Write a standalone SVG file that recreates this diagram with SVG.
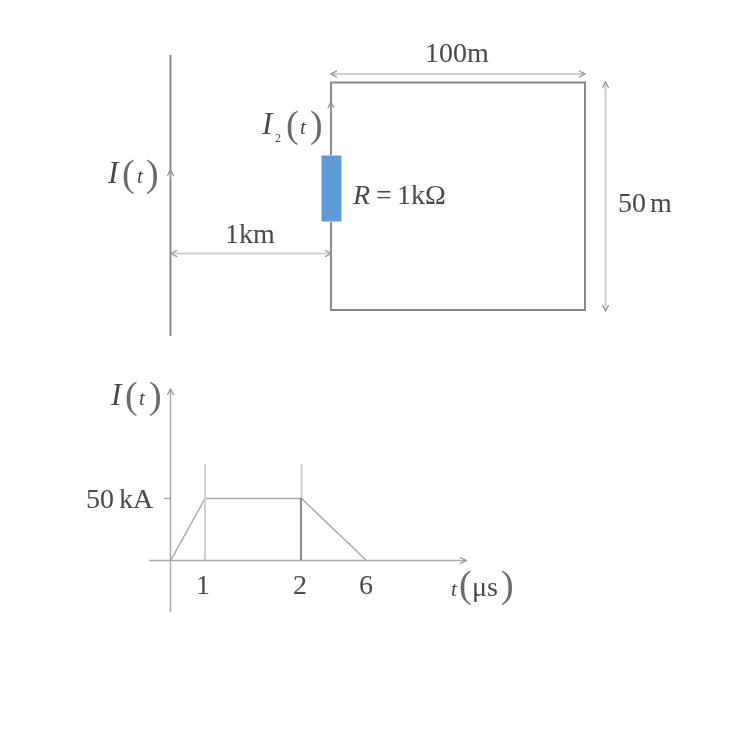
<svg xmlns="http://www.w3.org/2000/svg" width="732" height="738" viewBox="0 0 732 738">
<style>
text{font-family:"Liberation Serif","Times New Roman",serif;fill:#4a4a4a;font-size:28px}
.i{font-style:italic}
.b{font-size:31px}
.p{font-size:38px;fill:#6a6a6a}
.t{font-size:21px}
.w{fill:none;stroke:#868686;stroke-width:1.900}
.d{fill:none;stroke:#cfcfcf;stroke-width:1.900}
.g{fill:none;stroke:#a8a8a8;stroke-width:1.500}
.h{fill:none;stroke:#a0a0a0;stroke-width:1.100}
</style>
<defs>
<marker id="a" viewBox="0 0 8 8" refX="7" refY="4" markerWidth="8" markerHeight="8" markerUnits="userSpaceOnUse" orient="auto-start-reverse"><path d="M1 .8L7 4L1 7.2" fill="none" stroke="#909090" stroke-width="1.200"/></marker>
<filter id="soft" x="0" y="0" width="100%" height="100%"><feGaussianBlur stdDeviation="0.55"/></filter>
</defs>
<rect width="732" height="738" fill="#fff"/>
<g filter="url(#soft)">
<g id="connectors">
<path class="w" d="M170.500 55V336"/>
<path class="w" d="M331 155V82.500H585V310H331V222"/>
<path class="h" marker-end="url(#a)" d="M170.500 180V170"/>
<path class="h" marker-end="url(#a)" d="M331 112V102"/>
<path class="d" marker-start="url(#a)" marker-end="url(#a)" d="M171 253.500H331"/>
<path class="d" marker-start="url(#a)" marker-end="url(#a)" d="M331 74H585"/>
<path class="d" marker-start="url(#a)" marker-end="url(#a)" d="M605.500 82V311"/>
<path class="g" marker-end="url(#a)" d="M170.500 612V389"/>
<path class="g" marker-end="url(#a)" d="M149 560.500H466"/>
<path class="g" d="M164 498.500H171"/>
<path class="g" d="M171 560L205 498.500H301.500L366 560"/>
<path class="d" d="M205 464V560"/>
<path class="d" d="M301.500 464V498"/>
<path class="w" d="M301 498V560"/>
</g>
<g id="resistor"><rect x="321.500" y="155.500" width="20" height="66" fill="#5b9bd5"/></g>
<g id="labels">
<text class="i b" x="108" y="183">I</text><text class="p" x="122" y="186">(</text><text class="i t" x="137" y="183">t</text><text class="p" x="146" y="186">)</text>
<text class="i b" x="262" y="134">I</text><text x="275" y="142" style="font-size:12px">2</text><text class="p" x="286" y="137">(</text><text class="i t" x="300" y="134">t</text><text class="p" x="310" y="137">)</text>
<text class="i" x="353" y="204">R</text><text x="376" y="204">=</text><text x="397" y="204">1kΩ</text>
<text x="225" y="243">1km</text>
<text x="425" y="62">100m</text>
<text x="618" y="212">50</text><text x="650" y="212">m</text>
<text class="i b" x="111" y="405">I</text><text class="p" x="125" y="408">(</text><text class="i t" x="139" y="405">t</text><text class="p" x="149" y="408">)</text>
<text x="86" y="508">50</text><text x="119" y="508">kA</text>
<text x="196" y="594">1</text><text x="293" y="594">2</text><text x="359" y="594">6</text>
<text class="i t" x="451" y="596">t</text><text class="p" x="459" y="597">(</text><text x="472" y="596">μs</text><text class="p" x="501" y="597">)</text>
</g>
</g>
</svg>
